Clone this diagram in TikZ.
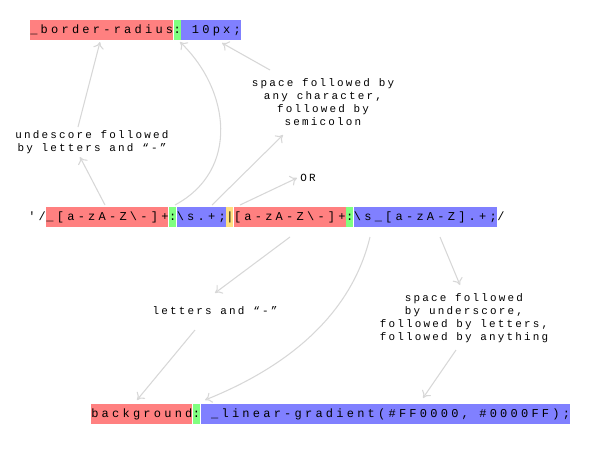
\documentclass[tikz,border=0pt]{standalone}
\usepackage{fontspec}
\usetikzlibrary{arrows.meta}
\newfontfamily\codef[LetterSpace=27]{Liberation Mono}
\newfontfamily\labf[LetterSpace=20]{Liberation Mono}
\begin{document}
\begin{tikzpicture}[x=0.75pt,y=-0.75pt,
  seg/.style={inner sep=0pt,minimum height=15pt,anchor=west,font=\codef\fontsize{9}{10}\selectfont,text height=7pt,text depth=2pt},
  rs/.style={seg,fill={rgb,255:red,255;green,128;blue,128}},
  gs/.style={seg,fill={rgb,255:red,128;green,255;blue,128}},
  bs/.style={seg,fill={rgb,255:red,128;green,128;blue,255}},
  ys/.style={seg,fill={rgb,255:red,255;green,224;blue,128}},
  lab/.style={font=\labf\fontsize{8.2}{9.6}\selectfont,align=center,inner sep=1pt},
  ar/.style={draw={rgb,255:red,215;green,215;blue,215},line width=0.8pt,-{To[length=5pt,width=8pt]}}]
\useasboundingbox (0,0) rectangle (600,450);
% top
\node[rs] (t1) at (30,30) {\_border-radius};
\node[gs] (t2) at (t1.east) {:};
\node[bs] (t3) at (t2.east) {\ 10px;};
% middle
\node[seg] (m0) at (28,217) {'/};
\node[rs] (m1) at (m0.east) {\_[a-zA-Z\textbackslash-]+};
\node[gs] (m2) at (m1.east) {:};
\node[bs] (m3) at (m2.east) {\textbackslash s.+;};
\node[ys] (m4) at (m3.east) {|};
\node[rs] (m5) at (m4.east) {[a-zA-Z\textbackslash-]+};
\node[gs] (m6) at (m5.east) {:};
\node[bs] (m7) at (m6.east) {\textbackslash s\_[a-zA-Z].+;};
\node[seg] (m8) at (m7.east) {/};
% bottom
\node[rs] (b1) at (91,414) {background};
\node[gs] (b2) at (b1.east) {:};
\node[bs] (b3) at (b2.east) {\ \_linear-gradient(\#FF0000, \#0000FF);};
% labels
\node[lab] (l1) at (92,142) {undescore followed\\by letters and “-”};
\node[lab] (l2) at (323,102) {space followed by\\any character,\\followed by\\semicolon};
\node[lab] (l3) at (308,178) {OR};
\node[lab] (l4) at (215,311) {letters and “-”};
\node[lab] (l5) at (464,318) {space followed\\by underscore,\\followed by letters,\\followed by anything};
% helper coordinates
\coordinate (a1s) at (105,205); \coordinate (a1e) at (80,157);
\coordinate (a2s) at (78,127); \coordinate (a2e) at (100,42);
\coordinate (a3s) at (175,205); \coordinate (a3e) at (180,42);
\coordinate (a4s) at (212,205); \coordinate (a4e) at (283,135);
\coordinate (a5s) at (270,70); \coordinate (a5e) at (222,43);
\coordinate (a6s) at (240,205); \coordinate (a6e) at (297,178);
\coordinate (a7s) at (290,237); \coordinate (a7e) at (215,293);
\coordinate (a8s) at (195,330); \coordinate (a8e) at (137,400);
\coordinate (a9s) at (370,237); \coordinate (a9e) at (205,400);
\coordinate (a10s) at (440,237); \coordinate (a10e) at (460,285);
\coordinate (a11s) at (456,350); \coordinate (a11e) at (423,398);
\draw[ar] (a1s) -- (a1e);
\draw[ar] (a2s) -- (a2e);
\draw[ar] (a3s) .. controls (240,170) and (230,90) .. (a3e);
\draw[ar] (a4s) -- (a4e);
\draw[ar] (a5s) -- (a5e);
\draw[ar] (a6s) -- (a6e);
\draw[ar] (a7s) -- (a7e);
\draw[ar] (a8s) -- (a8e);
\draw[ar] (a9s) .. controls (350,320) and (280,370) .. (a9e);
\draw[ar] (a10s) -- (a10e);
\draw[ar] (a11s) -- (a11e);
\end{tikzpicture}
\end{document}
